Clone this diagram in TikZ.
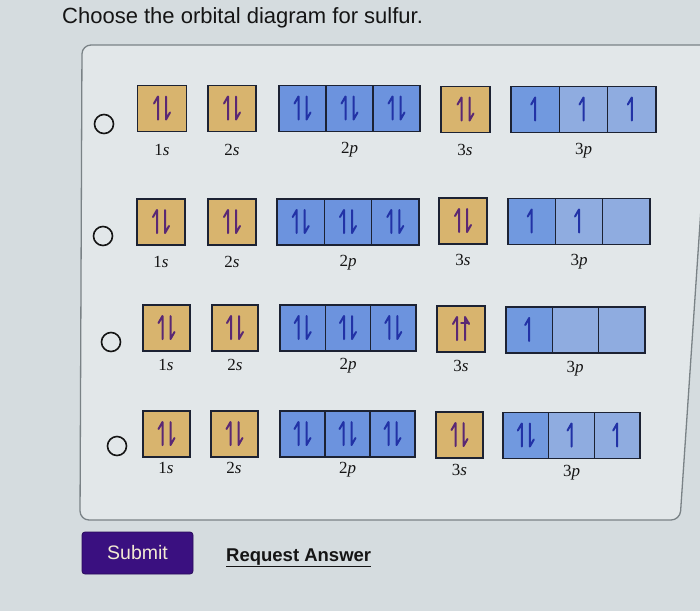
\documentclass[tikz,border=0pt]{standalone}
\usepackage{fontspec}
\setmainfont{Liberation Sans}
\newfontfamily\labfont{Liberation Serif}
\definecolor{bgc}{HTML}{D5DCDF}
\definecolor{panelc}{HTML}{E2E7E9}
\definecolor{panelb}{HTML}{7A8286}
\definecolor{sfill}{HTML}{D8B46E}
\definecolor{pfill}{HTML}{6C93DE}
\definecolor{pfillB}{HTML}{7199DF}
\definecolor{pfillL}{HTML}{8FACE0}
\definecolor{boxb}{HTML}{1C2233}
\definecolor{sarr}{HTML}{5A2874}
\definecolor{parr}{HTML}{2232A6}
\definecolor{subc}{HTML}{3A1080}
\definecolor{subt}{HTML}{F2EAD2}
\definecolor{txtc}{HTML}{151515}
\newcommand\pairarr[2]{%
  \draw[harp,#2] ([shift={(-4,11)}]#1.center) -- ([shift={(-4,-12)}]#1.center) -- ([shift={(-8,-5)}]#1.center);
  \draw[harp,#2] ([shift={(4,-12)}]#1.center) -- ([shift={(4,11)}]#1.center) -- ([shift={(8,4)}]#1.center);}
\newcommand\uparr[2]{%
  \draw[harp,#2] ([shift={(0,11)}]#1.center) -- ([shift={(0,-12)}]#1.center) -- ([shift={(-4,-5)}]#1.center);}
\newcommand\upup[2]{%
  \draw[harp,#2] ([shift={(-4,11)}]#1.center) -- ([shift={(-4,-12)}]#1.center) -- ([shift={(-8,-5)}]#1.center);
  \draw[harp,#2] ([shift={(4,11)}]#1.center) -- ([shift={(4,-12)}]#1.center) -- ([shift={(8,-5)}]#1.center);
  \draw[harp,#2,line width=1.4pt] ([shift={(0,-6)}]#1.center) -- ([shift={(8,-6)}]#1.center);}
\begin{document}
\begin{tikzpicture}[x=1pt,y=-1pt,
  sorb/.style={draw=boxb,line width=1.6pt,fill=sfill,inner sep=0pt,minimum width=#1,minimum height=46},
  sorb/.default=48,
  porb/.style={draw=boxb,line width=1.6pt,fill=pfill,inner sep=0pt,minimum width=#1,minimum height=46},
  porbB/.style={porb=#1,fill=pfillB},
  porbL/.style={porb=#1,fill=pfillL},
  harp/.style={line width=2pt,line cap=round,line join=round},
  radio/.style={circle,draw=txtc,line width=1.6pt,fill=panelc,minimum size=19,inner sep=0pt},
  lab/.style={font=\labfont\fontsize{17}{20}\selectfont,text=txtc,inner sep=0pt},
]
\useasboundingbox (0,0) rectangle (700,611);
\fill[bgc] (0,0) rectangle (700,611);
\node[anchor=base west,inner sep=0pt,text=txtc,font=\fontsize{22}{26}\selectfont] (title) at (62,23) {Choose the orbital diagram for sulfur.};
\draw[panelb,fill=panelc,line width=1.3pt,rounded corners=9] (82,45) -- (712,45) -- (680,520) -- (80,520) -- cycle;

% ---- row 1
\begin{scope}[every node/.append style={minimum height=47}]
\node[radio] (o1) at (104,124) {};
\node[sorb=49] (a1) at (162,108.5) {};
\node[sorb=48] (b1) at (232,108.5) {};
\node[porb=47] (c1) at (302.5,108.5) {};
\node[porb=47] (d1) at (349.5,108.5) {};
\node[porb=47] (e1) at (396.5,108.5) {};
\node[sorb=49] (f1) at (465.5,109.5) {};
\node[porbB=48.3] (g1) at (535.2,109.5) {};
\node[porbL=48.3] (h1) at (583.5,109.5) {};
\node[porbL=48.3] (i1) at (631.8,109.5) {};
\end{scope}
\node[lab] (la1) at (162,150) {1\textit{s}};
\node[lab] (lb1) at (232,150) {2\textit{s}};
\node[lab] (lc1) at (349.5,150) {2\textit{p}};
\node[lab] (lf1) at (465,150) {3\textit{s}};
\node[lab] (lg1) at (583.5,151) {3\textit{p}};
\pairarr{a1}{sarr}\pairarr{b1}{sarr}\pairarr{f1}{sarr}
\pairarr{c1}{parr}\pairarr{d1}{parr}\pairarr{e1}{parr}
\uparr{g1}{parr}\uparr{h1}{parr}\uparr{i1}{parr}

% ---- row 2
\node[radio] (o2) at (103,236) {};
\node[sorb=48] (a2) at (161,222) {};
\node[sorb=48] (b2) at (232,222) {};
\node[porb=47.3] (c2) at (300.7,222) {};
\node[porb=47.3] (d2) at (348,222) {};
\node[porb=47.3] (e2) at (395.3,222) {};
\node[sorb=48] (f2) at (463,221) {};
\node[porbB=47.3] (g2) at (531.7,221.5) {};
\node[porbL=47.3] (h2) at (579,221.5) {};
\node[porbL=47.3] (i2) at (626.3,221.5) {};
\node[lab] (la2) at (161,262) {1\textit{s}};
\node[lab] (lb2) at (232,262) {2\textit{s}};
\node[lab] (lc2) at (348,263) {2\textit{p}};
\node[lab] (lf2) at (463,260) {3\textit{s}};
\node[lab] (lg2) at (579,262) {3\textit{p}};
\pairarr{a2}{sarr}\pairarr{b2}{sarr}\pairarr{f2}{sarr}
\pairarr{c2}{parr}\pairarr{d2}{parr}\pairarr{e2}{parr}
\uparr{g2}{parr}\uparr{h2}{parr}

% ---- row 3
\begin{scope}[every node/.append style={minimum height=45}]
\node[radio] (o3) at (111,342) {};
\node[sorb=47] (a3) at (166.5,328) {};
\node[sorb=46] (b3) at (235,328) {};
\node[porb=45.3] (c3) at (302.7,328) {};
\node[porb=45.3] (d3) at (348,328) {};
\node[porb=45.3] (e3) at (393.3,328) {};
\node[sorb=48] (f3) at (461,329) {};
\node[porbB=46.3] (g3) at (529.2,330) {};
\node[porbL=46.3] (h3) at (575.5,330) {};
\node[porbL=46.3] (i3) at (621.8,330) {};
\end{scope}
\node[lab] (la3) at (166,365) {1\textit{s}};
\node[lab] (lb3) at (235,365) {2\textit{s}};
\node[lab] (lc3) at (348,366) {2\textit{p}};
\node[lab] (lf3) at (461,366) {3\textit{s}};
\node[lab] (lg3) at (575,369) {3\textit{p}};
\pairarr{a3}{sarr}\pairarr{b3}{sarr}\upup{f3}{sarr}
\pairarr{c3}{parr}\pairarr{d3}{parr}\pairarr{e3}{parr}
\uparr{g3}{parr}

% ---- row 4
\begin{scope}[every node/.append style={minimum height=44}]
\node[radio] (o4) at (117,446) {};
\node[sorb=47] (a4) at (166.5,434) {};
\node[sorb=47] (b4) at (234.5,434) {};
\node[porb=45] (c4) at (302.5,434) {};
\node[porb=45] (d4) at (347.5,434) {};
\node[porb=45] (e4) at (392.5,434) {};
\node[sorb=47] (f4) at (459.5,435) {};
\node[porbB=45.7] (g4) at (525.8,435.5) {};
\node[porbL=45.7] (h4) at (571.5,435.5) {};
\node[porbL=45.7] (i4) at (617.2,435.5) {};
\end{scope}
\node[lab] (la4) at (166,468) {1\textit{s}};
\node[lab] (lb4) at (234,468) {2\textit{s}};
\node[lab] (lc4) at (347.5,470) {2\textit{p}};
\node[lab] (lf4) at (459.5,470) {3\textit{s}};
\node[lab] (lg4) at (571.5,473) {3\textit{p}};
\pairarr{a4}{sarr}\pairarr{b4}{sarr}\pairarr{f4}{sarr}
\pairarr{c4}{parr}\pairarr{d4}{parr}\pairarr{e4}{parr}
\pairarr{g4}{parr}\uparr{h4}{parr}\uparr{i4}{parr}

% ---- buttons
\node[fill=subc,draw=subc!70!black,line width=0.8pt,rounded corners=3,minimum width=111,minimum height=42,inner sep=0pt,text=subt,font=\fontsize{19.5}{23}\selectfont] (submit) at (137.5,553) {Submit};
\node[anchor=base west,inner sep=0pt,text=txtc,font=\bfseries\fontsize{18.5}{22}\selectfont] (req) at (226,561) {\underline{Request Answer}};
\end{tikzpicture}
\end{document}
